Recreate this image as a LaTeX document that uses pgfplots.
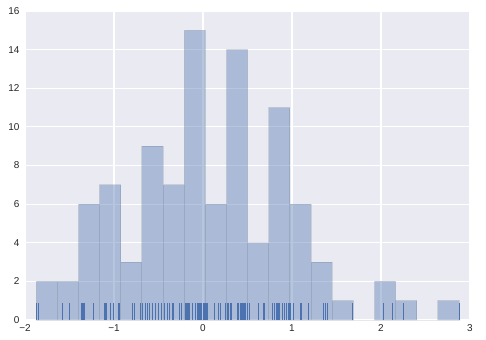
\documentclass[border=0pt]{standalone}
\usepackage{pgfplots}
\pgfplotsset{compat=1.18}
\usepackage{fontspec}
\setmainfont{Liberation Sans}
\definecolor{sbblue}{RGB}{76,114,176}
\definecolor{sbbg}{RGB}{234,234,242}
\definecolor{txt}{RGB}{38,38,38}
\pgfplotstableread{
x y
-1.873 2
-1.6355 2
-1.398 6
-1.1605 7
-0.923 3
-0.6855 9
-0.448 7
-0.2105 15
0.027 6
0.2645 14
0.502 4
0.7395 11
0.977 6
1.2145 3
1.452 1
1.6895 0
1.927 2
2.1645 1
2.402 0
2.6395 1
2.877 0
}\histtab
\begin{document}
\begin{tikzpicture}
\begin{axis}[
  scale only axis, width=445bp, height=309bp,
  xmin=-2, xmax=3, ymin=0, ymax=16,
  xtick={-2,-1,0,1,2,3},
  xticklabels={−2,−1,0,1,2,3},
  ytick={0,2,...,16},
  axis background/.style={fill=sbbg},
  axis line style={draw=none},
  major tick length=0pt,
  grid=major,
  major grid style={white, line width=1.1bp},
  tick label style={font=\fontsize{10}{12}\selectfont, text=txt},
  /pgf/number format/assume math mode=true,
  yticklabel style={xshift=-2bp},
  xticklabel style={yshift=-1bp},
]
\addplot[ybar interval, fill=sbblue, fill opacity=0.4, draw=black, draw opacity=0.09, line width=1bp] table[x=x, y=y] {\histtab};
\addplot[ycomb, no markers, sbblue, line width=0.9bp] coordinates {
(-1.873,0.88) (-1.854,0.88)
(-1.58,0.88) (-1.50,0.88)
(-1.37,0.88) (-1.36,0.88) (-1.35,0.88) (-1.34,0.88) (-1.33,0.88) (-1.233,0.88)
(-1.11,0.88) (-1.10,0.88) (-1.09,0.88) (-1.04,0.88) (-1.01,0.88) (-0.95,0.88) (-0.935,0.88)
(-0.794,0.88) (-0.772,0.88) (-0.70,0.88)
(-0.682,0.88) (-0.652,0.88) (-0.626,0.88) (-0.599,0.88) (-0.569,0.88) (-0.531,0.88) (-0.506,0.88) (-0.47,0.88) (-0.464,0.88)
(-0.43,0.88) (-0.401,0.88) (-0.374,0.88) (-0.348,0.88) (-0.33,0.88) (-0.27,0.88) (-0.247,0.88)
(-0.20,0.88) (-0.19,0.88) (-0.18,0.88) (-0.165,0.88) (-0.15,0.88) (-0.12,0.88) (-0.09,0.88) (-0.064,0.88) (-0.052,0.88) (-0.04,0.88) (-0.028,0.88) (-0.015,0.88) (0.005,0.88) (0.015,0.88) (0.022,0.88)
(0.042,0.88) (0.05,0.88) (0.127,0.88) (0.172,0.88) (0.191,0.88) (0.247,0.88)
(0.273,0.88) (0.285,0.88) (0.303,0.88) (0.32,0.88) (0.385,0.88) (0.40,0.88) (0.416,0.88) (0.435,0.88) (0.445,0.88) (0.455,0.88) (0.462,0.88) (0.472,0.88) (0.48,0.88) (0.495,0.88)
(0.525,0.88) (0.618,0.88) (0.674,0.88) (0.693,0.88)
(0.775,0.88) (0.806,0.88) (0.82,0.88) (0.835,0.88) (0.85,0.88) (0.862,0.88) (0.888,0.88) (0.91,0.88) (0.936,0.88) (0.955,0.88) (0.97,0.88)
(0.981,0.88) (1.011,0.88) (1.09,0.88) (1.10,0.88) (1.11,0.88) (1.18,0.88)
(1.356,0.88) (1.374,0.88) (1.393,0.88)
(1.674,0.88)
(2.026,0.88) (2.13,0.88)
(2.25,0.88)
(2.877,0.88)
};
\end{axis}
\pgfresetboundingbox
\path[use as bounding box] ([shift={(-25bp,-19bp)}]current axis.south west) rectangle ([shift={(16bp,11bp)}]current axis.north east);
\end{tikzpicture}
\end{document}
